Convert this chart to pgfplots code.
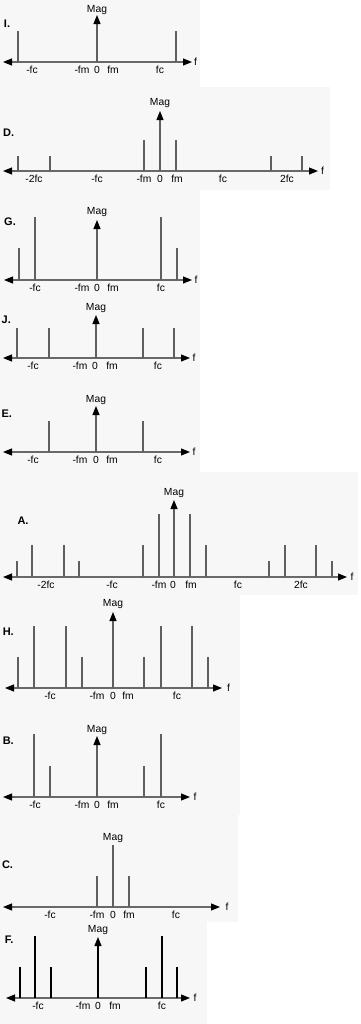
\documentclass[border=0pt]{standalone}
\usepackage{fontspec}
\setmainfont{Liberation Sans}
\usepackage{pgfplots}
\pgfplotsset{compat=1.18}
\usetikzlibrary{arrows.meta}
\definecolor{bgc}{RGB}{247,247,247}
\definecolor{spk}{RGB}{95,95,95}
\definecolor{axc}{RGB}{105,105,105}
\tikzset{>={Triangle[length=9pt,width=7pt,color=black]},
  magl/.style={font=\fontsize{10.3}{12}\selectfont, inner sep=0pt},
  ltr/.style={font=\fontsize{11}{13}\selectfont\bfseries, inner sep=0pt}}
\pgfplotsset{
  panel/.style={
    x=1pt, y=1pt, anchor=south west,
    axis x line=middle, axis y line=none,
    x axis line style={draw=none},
    xmin=0, clip=false,
    major tick length=0pt, ytick=\empty,
    axis background/.style={fill=bgc},
    xticklabel style={font=\fontsize{10.3}{12}\selectfont, anchor=north, inner sep=0pt, text height=7.5pt, text depth=0pt, yshift=-4pt},
  },
  hax/.style={axc, line width=1.1pt, <->},
  sp/.style={spk, line width=1.1pt, ycomb},
  mg/.style={spk, line width=1.1pt, ->},
}
\begin{document}
\begin{tikzpicture}
\path (0pt,0pt) rectangle (361pt,-1024pt);
% I
\begin{axis}[panel, at={(0pt,-87pt)}, xmax=200, ymin=-25, ymax=62,
  xtick={32,82,97,113,160}, xticklabels={-fc,-fm,0,fm,fc}]
\addplot[hax] coordinates {(3,0) (192,0)};
\addplot[sp] coordinates {(18,31) (176,31)};
\addplot[mg] coordinates {(97,0) (97,47)};
\node[magl] at (axis cs:97,51.7) {Mag};
\node[magl] at (axis cs:195.5,0.5) {f};
\node[ltr] at (axis cs:7,38) {I.};
\end{axis}
% D
\begin{axis}[panel, at={(0pt,-190pt)}, xmax=330, ymin=-19, ymax=84,
  xtick={34,97,144,160,177,223,287}, xticklabels={-2fc,-fc,-fm,0,fm,fc,2fc}]
\addplot[hax] coordinates {(3,0) (318,0)};
\addplot[sp] coordinates {(18,15) (50,15) (144,31) (176,31) (271,15) (302,15)};
\addplot[mg] coordinates {(160,0) (160,60)};
\node[magl] at (axis cs:160,68) {Mag};
\node[magl] at (axis cs:322.5,0.5) {f};
\node[ltr] at (axis cs:8.7,38.5) {D.};
\end{axis}
% G
\begin{axis}[panel, at={(0pt,-296pt)}, xmax=200, ymin=-16, ymax=90,
  xtick={35,82,97,113,161}, xticklabels={-fc,-fm,0,fm,fc}]
\addplot[hax] coordinates {(4,0) (192,0)};
\addplot[sp] coordinates {(19,32) (35,63) (161,63) (177,32)};
\addplot[mg] coordinates {(97,0) (97,60)};
\node[magl] at (axis cs:97,67.8) {Mag};
\node[magl] at (axis cs:196,0.5) {f};
\node[ltr] at (axis cs:10,58.7) {G.};
\end{axis}
% J
\begin{axis}[panel, at={(0pt,-380pt)}, xmax=200, ymin=-22, ymax=62,
  xtick={33,80,95,112,158}, xticklabels={-fc,-fm,0,fm,fc}]
\addplot[hax] coordinates {(3,0) (190,0)};
\addplot[sp] coordinates {(17,30) (49,30) (143,30) (174,30)};
\addplot[mg] coordinates {(96,0) (96,43)};
\node[magl] at (axis cs:96,49.7) {Mag};
\node[magl] at (axis cs:194,0.5) {f};
\node[ltr] at (axis cs:6.3,38.5) {J.};
\end{axis}
% E
\begin{axis}[panel, at={(0pt,-472pt)}, xmax=200, ymin=-20, ymax=72,
  xtick={33,80,96,112,158}, xticklabels={-fc,-fm,0,fm,fc}]
\addplot[hax] coordinates {(3,0) (190,0)};
\addplot[sp] coordinates {(49,31) (143,31)};
\addplot[mg] coordinates {(96,0) (96,46)};
\node[magl] at (axis cs:96,52.2) {Mag};
\node[magl] at (axis cs:194,0.5) {f};
\node[ltr] at (axis cs:6.7,38.7) {E.};
\end{axis}
% A
\begin{axis}[panel, at={(0pt,-595pt)}, xmax=358, ymin=-18, ymax=105,
  xtick={46,112,159,173,191,238,301}, xticklabels={-2fc,-fc,-fm,0,fm,fc,2fc}]
\addplot[hax] coordinates {(3,0) (347,0)};
\addplot[sp] coordinates {(17,16) (32,32) (64,32) (79,16) (143,32) (159,63) (190,63) (206,32) (269,16) (285,32) (316,32) (332,16)};
\addplot[mg] coordinates {(174,0) (174,77)};
\node[magl] at (axis cs:174,83.7) {Mag};
\node[magl] at (axis cs:352,0.5) {f};
\node[ltr] at (axis cs:23,55.8) {A.};
\end{axis}
% H
\begin{axis}[panel, at={(0pt,-703pt)}, xmax=240, ymin=-15, ymax=93,
  xtick={50,97,113,128,177}, xticklabels={-fc,-fm,0,fm,fc}]
\addplot[hax] coordinates {(5,0) (222,0)};
\addplot[sp] coordinates {(18,31) (34,62) (66,62) (82,31) (144,31) (161,62) (192,62) (208,31)};
\addplot[mg] coordinates {(113,0) (113,76)};
\node[magl] at (axis cs:113,83.5) {Mag};
\node[magl] at (axis cs:228.5,0.5) {f};
\node[ltr] at (axis cs:8.3,56.7) {H.};
\end{axis}
% B
\begin{axis}[panel, at={(0pt,-815pt)}, xmax=240, ymin=-18, ymax=94,
  xtick={35,82,97,113,161}, xticklabels={-fc,-fm,0,fm,fc}]
\addplot[hax] coordinates {(3,0) (190,0)};
\addplot[sp] coordinates {(34,63) (50,31) (144,31) (161,63)};
\addplot[mg] coordinates {(97,0) (97,61)};
\node[magl] at (axis cs:97,67.3) {Mag};
\node[magl] at (axis cs:195,0.5) {f};
\node[ltr] at (axis cs:8.3,56.5) {B.};
\end{axis}
% C
\begin{axis}[panel, at={(0pt,-922pt)}, xmax=238, ymin=-15, ymax=92,
  xtick={50,97,113,129,176}, xticklabels={-fc,-fm,0,fm,fc}]
\addplot[hax] coordinates {(3,0) (220,0)};
\addplot[sp] coordinates {(97,31) (113,62) (129,31)};
\node[magl] at (axis cs:113,69) {Mag};
\node[magl] at (axis cs:227,0.5) {f};
\node[ltr] at (axis cs:7.5,41.8) {C.};
\end{axis}
% F
\begin{axis}[panel, at={(0pt,-1024pt)}, xmax=207, ymin=-26, ymax=76,
  xtick={38,83,98,115,162}, xticklabels={-fc,-fm,0,fm,fc}]
\addplot[hax] coordinates {(6,0) (190,0)};
\addplot[black, line width=1.1pt, ycomb] coordinates {(20,31) (35,62) (51,31) (146,31) (162,62) (177,31)};
\addplot[black, line width=1.1pt, ->] coordinates {(98,0) (98,61)};
\node[magl] at (axis cs:98,67.5) {Mag};
\node[magl] at (axis cs:195,0.5) {f};
\node[ltr] at (axis cs:9.2,58.5) {F.};
\end{axis}
\end{tikzpicture}
\end{document}
